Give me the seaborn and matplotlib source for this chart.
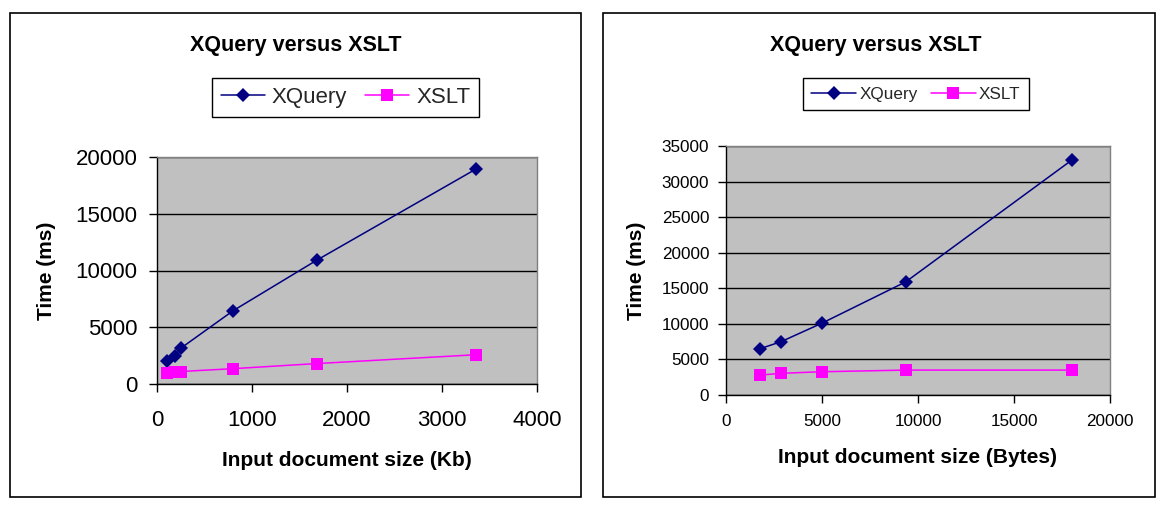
import matplotlib
matplotlib.use("Agg")
import matplotlib.pyplot as plt
from matplotlib.lines import Line2D
from matplotlib.patches import Rectangle
import numpy as np
import pandas as pd
import seaborn as sns

# ---- data ----
series_names = ["XQuery", "XSLT"]
kb_sizes = [110, 190, 250, 800, 1680, 3360]
kb_xquery = [2000, 2450, 3150, 6450, 10900, 18950]
kb_xslt = [970, 1020, 1100, 1350, 1800, 2580]

byte_sizes = [1770, 2870, 5000, 9360, 18000]
byte_xquery = [6500, 7500, 10100, 15900, 33000]
byte_xslt = [2800, 3050, 3270, 3500, 3500]

title_text = "XQuery versus XSLT"
left_xlabel = "Input document size (Kb)"
right_xlabel = "Input document size (Bytes)"
ylabel_text = "Time (ms)"
left_xticks = [0, 1000, 2000, 3000, 4000]
left_yticks = [0, 5000, 10000, 15000, 20000]
right_xticks = [0, 5000, 10000, 15000, 20000]
right_yticks = [0, 5000, 10000, 15000, 20000, 25000, 30000, 35000]

sns.set_theme(style="white")
plt.rcParams["font.family"] = ["Liberation Sans", "DejaVu Sans"]

colors = {"XQuery": "#000080", "XSLT": "#FF00FF"}
markers = {"XQuery": "D", "XSLT": "s"}
MS_D, MS_S = 7, 8.5

W, H = 1168, 512
fig = plt.figure(figsize=(W / 100, H / 100), dpi=100)
fig.patch.set_facecolor("white")

def px_axes(x0, x1, ytop, ybot):
    return fig.add_axes([x0 / W, (H - ybot) / H, (x1 - x0) / W, (ybot - ytop) / H])

def long_df(sizes, a, b):
    return pd.DataFrame({
        "size": list(sizes) + list(sizes),
        "time": list(a) + list(b),
        "series": [series_names[0]] * len(sizes) + [series_names[1]] * len(sizes),
    })

def draw(ax, df, xlim, ylim, xticks, yticks, fs_tick, xlabel,
         xpad, ypad, xlab_y, ylab_x):
    ax.set_facecolor("#C0C0C0")
    for name in series_names:
        sub = df[df["series"] == name]
        sns.lineplot(data=sub, x="size", y="time", ax=ax, color=colors[name],
                     marker=markers[name], markersize=MS_D if name == "XQuery" else MS_S,
                     markeredgewidth=0, linewidth=1.1, legend=False, sort=False,
                     clip_on=False, zorder=3)
    ax.set_xlim(*xlim)
    ax.set_ylim(*ylim)
    ax.set_xticks(xticks)
    ax.set_yticks(yticks)
    ax.set_xticklabels([str(t) for t in xticks])
    ax.set_yticklabels([str(t) for t in yticks])
    ax.yaxis.grid(True, color="black", linewidth=1.0)
    ax.xaxis.grid(False)
    ax.set_axisbelow(True)
    for s in ["top", "right"]:
        ax.spines[s].set_color("#808080")
        ax.spines[s].set_linewidth(1.0)
    for s in ["left", "bottom"]:
        ax.spines[s].set_color("black")
        ax.spines[s].set_linewidth(1.0)
    ax.tick_params(axis="both", which="major", direction="out", length=6,
                   width=1.0, color="black", labelsize=fs_tick, labelcolor="black",
                   left=True, bottom=True)
    ax.tick_params(axis="x", pad=xpad)
    ax.tick_params(axis="y", pad=ypad)
    ax.set_xlabel(xlabel, fontsize=15, fontweight="bold", color="black")
    ax.set_ylabel(ylabel_text, fontsize=15, fontweight="bold", color="black")
    ax.xaxis.label.set_va("center")
    ax.yaxis.label.set_va("center")
    ax.xaxis.set_label_coords(0.5, xlab_y)
    ax.yaxis.set_label_coords(ylab_x, 0.5)

# panel borders
fig.patches.append(Rectangle((10 / W, (H - 497) / H), (581 - 10) / W, (497 - 13) / H,
                             transform=fig.transFigure, fill=False, edgecolor="black",
                             linewidth=1.2))
fig.patches.append(Rectangle((603 / W, (H - 497) / H), (1155 - 603) / W, (497 - 13) / H,
                             transform=fig.transFigure, fill=False, edgecolor="black",
                             linewidth=1.2))

# left chart
ax1 = px_axes(157, 537, 157, 384)
draw(ax1, long_df(kb_sizes, kb_xquery, kb_xslt), (0, 4000), (0, 20000),
     left_xticks, left_yticks, 16, left_xlabel, 13, 8, -0.335, -0.29)

# right chart
ax2 = px_axes(726, 1110, 146, 395)
draw(ax2, long_df(byte_sizes, byte_xquery, byte_xslt), (0, 20000), (0, 35000),
     right_xticks, right_yticks, 12.3, right_xlabel, 8, 6, -0.253, -0.2326)

# titles
fig.text(296 / W, 1 - 45 / H, title_text, fontsize=15.5, fontweight="bold",
         ha="center", va="center", color="black")
fig.text(876 / W, 1 - 45 / H, title_text, fontsize=15.5, fontweight="bold",
         ha="center", va="center", color="black")

def legend_handles():
    return [Line2D([], [], color=colors[n], marker=markers[n],
                   markersize=MS_D if n == "XQuery" else MS_S, markeredgewidth=0,
                   linewidth=1.1) for n in series_names]

leg1 = ax1.legend(legend_handles(), series_names, loc="center",
                  bbox_to_anchor=(345.5 / W, 1 - 97.5 / H), bbox_transform=fig.transFigure,
                  ncol=2, fontsize=16, frameon=True, fancybox=False, framealpha=1,
                  edgecolor="black", handlelength=2.0, handletextpad=0.3,
                  columnspacing=0.8, borderpad=0.4, borderaxespad=0)
leg1.get_frame().set_linewidth(1.0)

leg2 = ax2.legend(legend_handles(), series_names, loc="center",
                  bbox_to_anchor=(916 / W, 1 - 94.4 / H), bbox_transform=fig.transFigure,
                  ncol=2, fontsize=12.3, frameon=True, fancybox=False, framealpha=1,
                  edgecolor="black", handlelength=2.6, handletextpad=0.2,
                  columnspacing=0.8, borderpad=0.5, borderaxespad=0)
leg2.get_frame().set_linewidth(1.0)

fig.savefig("out.png", dpi=100, facecolor="white")
